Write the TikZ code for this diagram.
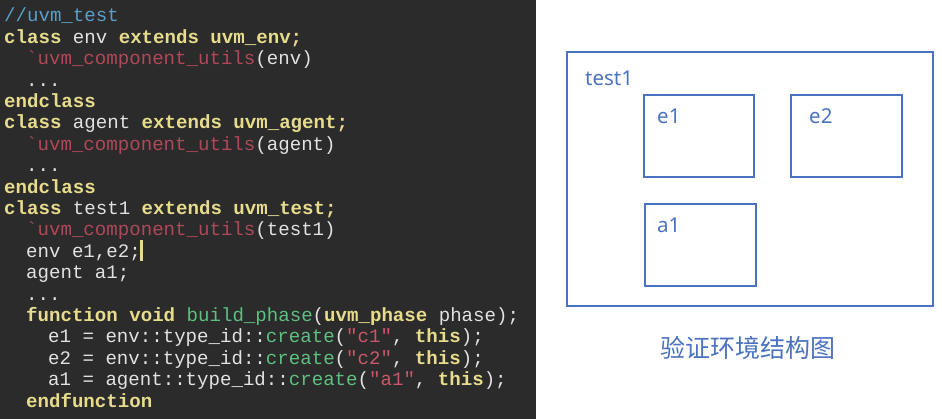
\documentclass[tikz,border=0pt]{standalone}
\usepackage{fontspec}
\newfontfamily\cf{Liberation Mono}
\newfontfamily\labfont{Noto Sans}
\newfontfamily\cjk{Noto Sans CJK SC}
\definecolor{bg}{HTML}{2B2B2B}
\definecolor{kw}{HTML}{E6DC8C}
\definecolor{tx}{HTML}{E2E2E2}
\definecolor{cm}{HTML}{5A9EC8}
\definecolor{mc}{HTML}{B04858}
\definecolor{gn}{HTML}{5EC080}
\definecolor{st}{HTML}{C85868}
\definecolor{bl}{HTML}{4A72C0}
\newcommand\kw[1]{{\bfseries\color{kw}#1}}
\newcommand\mc[1]{{\color{mc}#1}}
\newcommand\gn[1]{{\color{gn}#1}}
\newcommand\st[1]{{\color{st}#1}}
\newcommand\us{\_}
\begin{document}
\begin{tikzpicture}[x=1pt,y=-1pt,
  code/.style={anchor=base west,inner sep=0pt,font=\cf\fontsize{19.1}{20}\selectfont,text=tx},
  box/.style={draw=bl,line width=1.2pt},
  lab/.style={anchor=base west,inner sep=0pt,text=bl,font=\labfont\fontsize{20.5}{22}\selectfont}]
\useasboundingbox (0,0) rectangle (942,419);
\fill[bg] (0,0) rectangle (536,419);
\def\ln#1{22+21.4*(#1-1)}
\node[code,text=cm] (l1) at (4,{\ln{1}}) {//uvm\us test};
\node[code] (l2) at (4,{\ln{2}}) {\kw{class} env \kw{extends uvm\us env;}};
\node[code] (l3) at (26,{\ln{3}}) {\mc{\textasciigrave uvm\us component\us utils}(env)};
\node[code] (l4) at (26,{\ln{4}}) {...};
\node[code] (l5) at (4,{\ln{5}}) {\kw{endclass}};
\node[code] (l6) at (4,{\ln{6}}) {\kw{class} agent \kw{extends uvm\us agent;}};
\node[code] (l7) at (26,{\ln{7}}) {\mc{\textasciigrave uvm\us component\us utils}(agent)};
\node[code] (l8) at (26,{\ln{8}}) {...};
\node[code] (l9) at (4,{\ln{9}}) {\kw{endclass}};
\node[code] (l10) at (4,{\ln{10}}) {\kw{class} test1 \kw{extends uvm\us test;}};
\node[code] (l11) at (26,{\ln{11}}) {\mc{\textasciigrave uvm\us component\us utils}(test1)};
\node[code] (l12) at (26,{\ln{12}}) {env e1,e2;};
\fill[kw] (140,{\ln{12}-17}) rectangle (143,{\ln{12}+4});
\node[code] (l13) at (26,{\ln{13}}) {agent a1;};
\node[code] (l14) at (26,{\ln{14}}) {...};
\node[code] (l15) at (26,{\ln{15}}) {\kw{function void} \gn{build\us phase}(\kw{uvm\us phase} phase);};
\node[code] (l16) at (48,{\ln{16}}) {e1 = env::type\us id::\gn{create}(\st{"c1"}, \kw{this});};
\node[code] (l17) at (48,{\ln{17}}) {e2 = env::type\us id::\gn{create}(\st{"c2"}, \kw{this});};
\node[code] (l18) at (48,{\ln{18}}) {a1 = agent::type\us id::\gn{create}(\st{"a1"}, \kw{this});};
\node[code] (l19) at (26,{\ln{19}}) {\kw{endfunction}};
% diagram
\draw[box] (567,52) rectangle (933,306);
\draw[box] (644,95) rectangle (754,177);
\draw[box] (791,95) rectangle (902,177);
\draw[box] (645,204) rectangle (756,286);
\node[lab] (t1) at (585,86) {test1};
\node[lab] (e1) at (657,124) {e1};
\node[lab] (e2) at (809,124) {e2};
\node[lab] (a1) at (657,233) {a1};
\node[inner sep=0pt,text=bl,font=\cjk\fontsize{25}{28}\selectfont] (cap) at (748,348) {验证环境结构图};
\end{tikzpicture}
\end{document}
